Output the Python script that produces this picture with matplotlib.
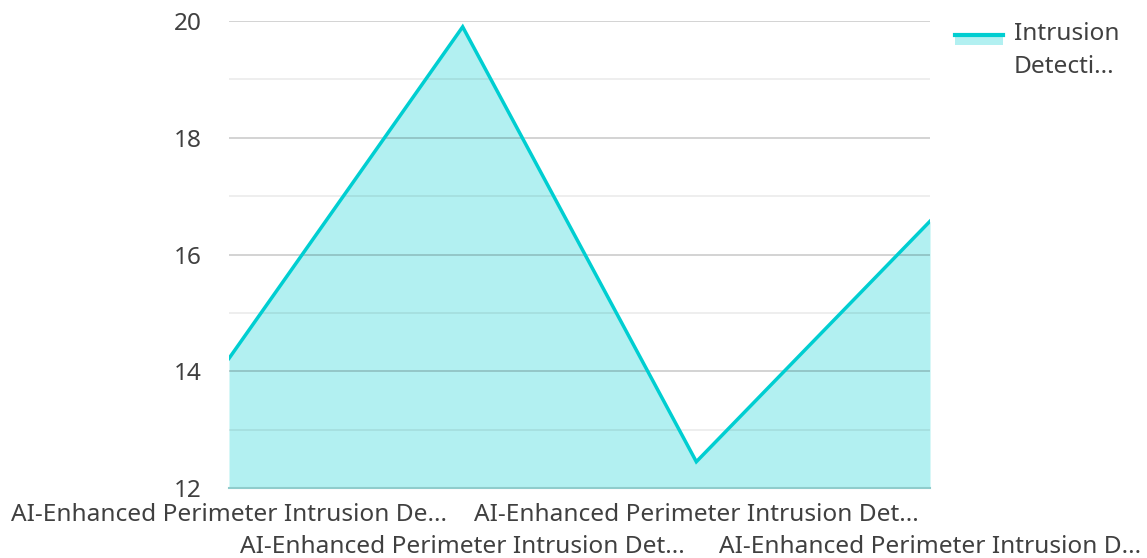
import matplotlib
matplotlib.use("Agg")
import matplotlib.pyplot as plt
from matplotlib.lines import Line2D
from matplotlib.patches import Rectangle

categories = [
    "AI-Enhanced Perimeter Intrusion De...",
    "AI-Enhanced Perimeter Intrusion Det...",
    "AI-Enhanced Perimeter Intrusion Det...",
    "AI-Enhanced Perimeter Intrusion D...",
]
values = [14.22, 19.9, 12.45, 16.57]
series_name = "Intrusion\nDetecti..."
y_ticks = [12, 14, 16, 18, 20]
y_minor = [13, 15, 17, 19]

line_color = "#00CED1"
text_color = "#404040"
fs = 17.6

plt.rcParams["font.family"] = ["Noto Sans", "DejaVu Sans"]

fig = plt.figure(figsize=(11.47, 5.58), dpi=100)
ax = fig.add_axes([229/1147, 1-488/558, (930-229)/1147, (488-21)/558])

x = list(range(len(values)))
ax.set_xlim(0, len(values) - 1)
ax.set_ylim(12, 20)

ax.fill_between(x, values, 12, color=line_color, alpha=0.3, lw=0, zorder=1)
for v in y_minor:
    ax.axhline(v, color="#000000", alpha=0.08, lw=1.2, zorder=1.5)
for v in y_ticks[1:]:
    ax.axhline(v, color="#000000", alpha=0.2, lw=1.2, zorder=1.5)
ax.plot(x, values, color=line_color, lw=2.5, zorder=3, solid_joinstyle="miter")

for s in ["top", "right", "left"]:
    ax.spines[s].set_visible(False)
ax.spines["bottom"].set_color("#8fcccc")
ax.spines["bottom"].set_linewidth(1.5)
ax.spines["bottom"].set_zorder(2)

ax.set_yticks(y_ticks)
ax.set_yticklabels([str(t) for t in y_ticks])
ax.tick_params(axis="y", length=0, pad=19.5, labelsize=fs, labelcolor=text_color)
ax.set_xticks(x)
ax.set_xticklabels([])
ax.tick_params(axis="x", length=0)

for i, lab in enumerate(categories):
    yoff = -27 if i % 2 == 0 else -59
    ax.annotate(lab, xy=(x[i], 12), xycoords="data", xytext=(0, yoff),
                textcoords="offset pixels",
                ha="center", va="center", fontsize=fs, color=text_color)

# legend drawn manually in figure pixel coordinates
def fx(px):
    return px / 1147

def fy(py):
    return 1 - py / 558

fig.patches.append(Rectangle((fx(955), fy(45)), fx(1003) - fx(955), fy(34) - fy(45),
                             transform=fig.transFigure, facecolor=line_color,
                             alpha=0.3, edgecolor="none"))
fig.lines.append(Line2D([fx(955), fx(1003)], [fy(35), fy(35)], transform=fig.transFigure,
                        color=line_color, lw=3))
for k, t in enumerate(series_name.split("\n")):
    fig.text(fx(1014), fy(34 + 33 * k), t, ha="left", va="center", fontsize=fs,
             color=text_color)

fig.savefig("out.png", dpi=100)
